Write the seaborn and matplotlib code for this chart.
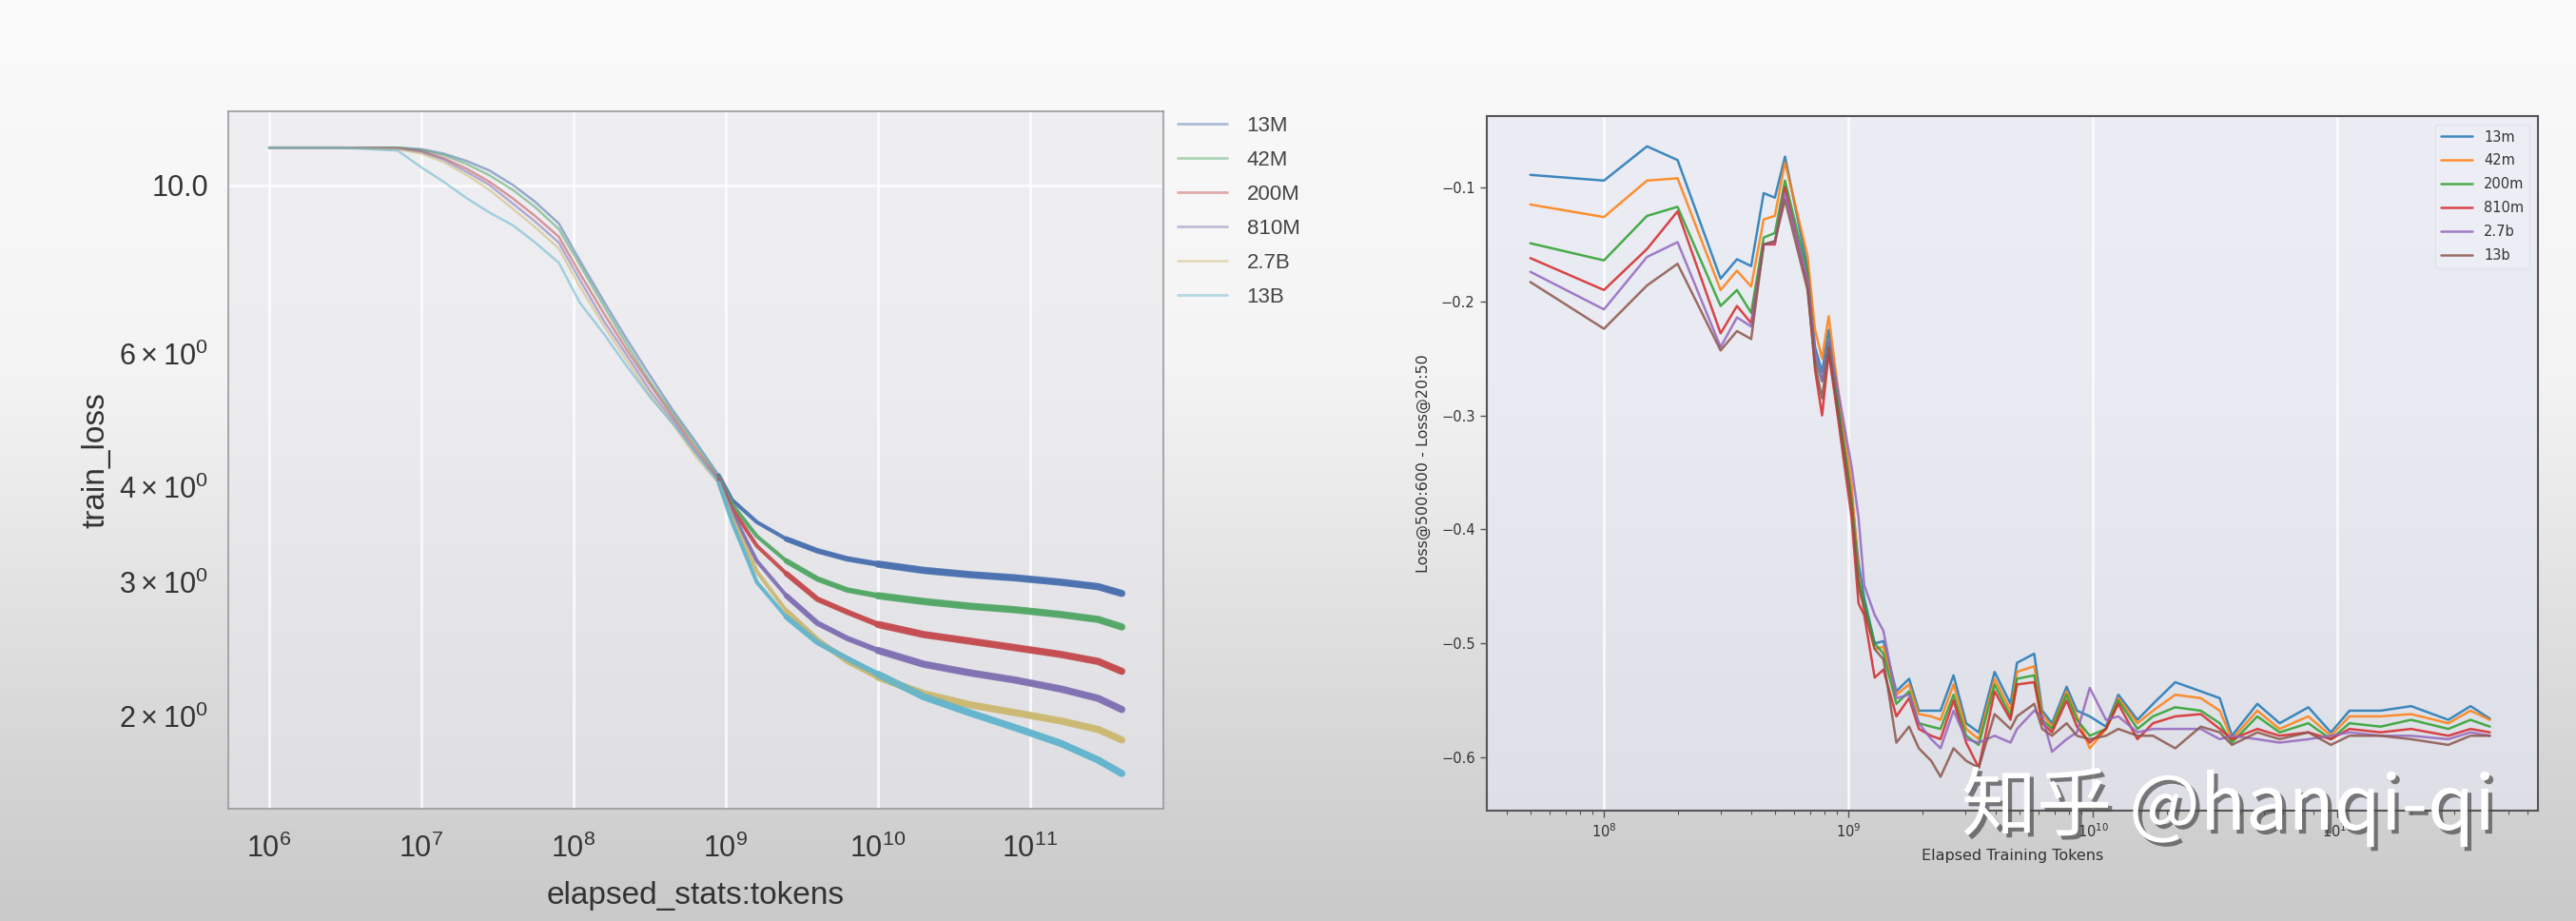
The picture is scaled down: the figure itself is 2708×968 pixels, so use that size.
import numpy as np
import pandas as pd
import matplotlib
matplotlib.use("Agg")
import matplotlib.pyplot as plt
import matplotlib.patheffects as pe
from matplotlib.colors import LinearSegmentedColormap
from matplotlib.lines import Line2D
from matplotlib.ticker import FixedLocator, FixedFormatter, NullLocator, LogLocator
import seaborn as sns


# ==== left panel: train_loss vs elapsed tokens ====
left_models = ["13M", "42M", "200M", "810M", "2.7B", "13B"]
left_tokens = [1e6, 3e6, 7e6, 1e7, 1.4e7, 2e7, 2.8e7, 4e7, 5.6e7, 8e7,
               1.1e8, 1.6e8, 2.2e8, 3.2e8, 4.5e8, 6.3e8, 9e8, 1.1e9, 1.6e9, 2.5e9,
               4e9, 6.3e9, 1e10, 2e10, 4e10, 8e10, 1.6e11, 2.8e11, 4e11]
loss_13M = [11.2, 11.2, 11.2, 11.15, 11.0, 10.75, 10.45, 10.0, 9.5, 8.9,
            7.95, 7.0, 6.3, 5.6, 5.05, 4.6, 4.15, 3.85, 3.6, 3.42,
            3.3, 3.22, 3.17, 3.11, 3.07, 3.04, 3.0, 2.96, 2.9]
loss_42M = [11.2, 11.2, 11.2, 11.12, 10.95, 10.65, 10.3, 9.85, 9.35, 8.75,
            7.85, 6.9, 6.2, 5.5, 5.0, 4.55, 4.12, 3.8, 3.45, 3.2,
            3.03, 2.93, 2.88, 2.83, 2.79, 2.76, 2.72, 2.68, 2.62]
loss_200M = [11.2, 11.2, 11.18, 11.08, 10.85, 10.5, 10.1, 9.6, 9.1, 8.55,
             7.65, 6.75, 6.1, 5.45, 4.95, 4.5, 4.1, 3.75, 3.35, 3.08,
             2.85, 2.74, 2.64, 2.56, 2.51, 2.46, 2.41, 2.36, 2.29]
loss_810M = [11.2, 11.2, 11.17, 11.05, 10.8, 10.4, 10.0, 9.45, 8.95, 8.4,
             7.5, 6.6, 6.0, 5.35, 4.9, 4.45, 4.08, 3.7, 3.2, 2.88,
             2.65, 2.53, 2.44, 2.34, 2.28, 2.23, 2.17, 2.11, 2.04]
loss_2_7B = [11.2, 11.2, 11.15, 11.0, 10.72, 10.3, 9.85, 9.3, 8.8, 8.25,
             7.35, 6.5, 5.9, 5.28, 4.85, 4.4, 4.05, 3.65, 3.1, 2.75,
             2.52, 2.36, 2.25, 2.14, 2.07, 2.02, 1.97, 1.92, 1.86]
loss_13B = [11.2, 11.2, 11.1, 10.55, 10.1, 9.6, 9.2, 8.85, 8.4, 7.9,
            7.0, 6.35, 5.8, 5.25, 4.85, 4.45, 4.05, 3.6, 3.0, 2.7,
            2.5, 2.38, 2.27, 2.12, 2.02, 1.93, 1.84, 1.75, 1.68]
left_xticks = [1e6, 1e7, 1e8, 1e9, 1e10, 1e11]
left_ymajor = [10]
left_ymajor_labels = ["10.0"]
left_yminor = [2, 3, 4, 6]
left_yminor_labels = [r"$\mathdefault{2\times10^{0}}$", r"$\mathdefault{3\times10^{0}}$",
                      r"$\mathdefault{4\times10^{0}}$", r"$\mathdefault{6\times10^{0}}$"]

# ==== right panel: Loss@500:600 - Loss@20:50 ====
right_models = ["13m", "42m", "200m", "810m", "2.7b", "13b"]
right_tokens = [5e7, 1e8, 1.5e8, 2e8, 3e8, 3.5e8, 4e8, 4.5e8, 5e8, 5.5e8,
                6.8e8, 7.3e8, 7.8e8, 8.3e8, 9.1e8, 1.03e9, 1.1e9, 1.16e9, 1.28e9,
                1.39e9, 1.57e9, 1.77e9, 1.94e9, 2.18e9, 2.38e9, 2.69e9, 3.03e9, 3.41e9, 3.96e9,
                4.6e9, 4.89e9, 5.75e9, 6.2e9, 6.8e9, 7.8e9, 8.6e9, 9.7e9,
                1.13e10, 1.27e10, 1.52e10, 1.76e10, 2.17e10, 2.76e10,
                3.3e10, 3.7e10, 4.7e10, 5.8e10, 7.6e10, 9.4e10,
                1.12e11, 1.5e11, 2.0e11, 2.84e11, 3.5e11, 4.2e11]
delta_13m = [-0.089, -0.094, -0.064, -0.076, -0.180, -0.163, -0.169, -0.105, -0.109, -0.073,
             -0.170, -0.240, -0.262, -0.225, -0.290, -0.370, -0.430, -0.460, -0.500,
             -0.498, -0.542, -0.531, -0.559, -0.559, -0.559, -0.528, -0.570, -0.578, -0.525,
             -0.553, -0.517, -0.509, -0.559, -0.570, -0.538, -0.559, -0.564,
             -0.573, -0.545, -0.567, -0.553, -0.534, -0.542,
             -0.548, -0.581, -0.553, -0.570, -0.556, -0.578,
             -0.559, -0.559, -0.555, -0.567, -0.555, -0.566]
delta_42m = [-0.115, -0.126, -0.094, -0.092, -0.190, -0.173, -0.187, -0.128, -0.125, -0.078,
             -0.160, -0.225, -0.250, -0.213, -0.280, -0.360, -0.440, -0.470, -0.505,
             -0.503, -0.545, -0.536, -0.562, -0.564, -0.567, -0.536, -0.575, -0.584, -0.531,
             -0.559, -0.525, -0.520, -0.562, -0.573, -0.542, -0.564, -0.592,
             -0.575, -0.548, -0.570, -0.559, -0.545, -0.548,
             -0.559, -0.584, -0.559, -0.575, -0.564, -0.581,
             -0.564, -0.564, -0.562, -0.570, -0.559, -0.567]
delta_200m = [-0.149, -0.164, -0.125, -0.117, -0.204, -0.190, -0.210, -0.144, -0.140, -0.094,
              -0.175, -0.250, -0.270, -0.235, -0.295, -0.375, -0.445, -0.465, -0.500,
              -0.509, -0.553, -0.542, -0.570, -0.573, -0.575, -0.545, -0.581, -0.589, -0.536,
              -0.564, -0.531, -0.528, -0.567, -0.575, -0.545, -0.567, -0.581,
              -0.575, -0.550, -0.575, -0.564, -0.556, -0.559,
              -0.570, -0.587, -0.564, -0.578, -0.570, -0.584,
              -0.570, -0.573, -0.567, -0.575, -0.567, -0.573]
delta_810m = [-0.162, -0.190, -0.154, -0.121, -0.228, -0.204, -0.219, -0.150, -0.150, -0.100,
              -0.185, -0.260, -0.300, -0.245, -0.305, -0.390, -0.465, -0.475, -0.530,
              -0.523, -0.564, -0.548, -0.575, -0.581, -0.584, -0.550, -0.587, -0.609, -0.542,
              -0.567, -0.536, -0.534, -0.570, -0.578, -0.550, -0.573, -0.587,
              -0.575, -0.553, -0.584, -0.570, -0.564, -0.562,
              -0.575, -0.584, -0.575, -0.581, -0.578, -0.584,
              -0.575, -0.578, -0.575, -0.581, -0.575, -0.578]
delta_2_7b = [-0.174, -0.207, -0.161, -0.148, -0.240, -0.214, -0.222, -0.150, -0.148, -0.105,
              -0.180, -0.245, -0.270, -0.235, -0.280, -0.345, -0.390, -0.449, -0.475,
              -0.489, -0.548, -0.545, -0.570, -0.584, -0.592, -0.559, -0.584, -0.587, -0.581,
              -0.587, -0.575, -0.559, -0.564, -0.595, -0.584, -0.578, -0.539,
              -0.567, -0.564, -0.578, -0.575, -0.575, -0.575,
              -0.584, -0.581, -0.584, -0.587, -0.584, -0.581,
              -0.578, -0.581, -0.581, -0.584, -0.578, -0.581]
delta_13b = [-0.183, -0.224, -0.186, -0.167, -0.243, -0.226, -0.233, -0.150, -0.147, -0.111,
             -0.190, -0.255, -0.285, -0.240, -0.300, -0.380, -0.450, -0.470, -0.505,
             -0.514, -0.587, -0.573, -0.592, -0.603, -0.617, -0.592, -0.603, -0.609, -0.562,
             -0.575, -0.564, -0.553, -0.575, -0.581, -0.570, -0.581, -0.584,
             -0.581, -0.575, -0.581, -0.581, -0.592, -0.573,
             -0.578, -0.589, -0.578, -0.584, -0.578, -0.589,
             -0.581, -0.581, -0.584, -0.589, -0.581, -0.581]
right_yticks = [-0.1, -0.2, -0.3, -0.4, -0.5, -0.6]


def long_form(tokens, series, names, value):
    frames = [pd.DataFrame({"tokens": tokens, value: s, "model": n})
              for s, n in zip(series, names)]
    return pd.concat(frames, ignore_index=True)


left_df = long_form(left_tokens,
                    [loss_13M, loss_42M, loss_200M, loss_810M, loss_2_7B, loss_13B],
                    left_models, "train_loss")
right_df = long_form(right_tokens,
                     [delta_13m, delta_42m, delta_200m, delta_810m, delta_2_7b, delta_13b],
                     right_models, "delta")

sns.set_style("darkgrid")
plt.rcParams["font.family"] = ["DejaVu Sans"]

left_colors = sns.color_palette("deep6")
right_colors = sns.color_palette("tab10")[:6]

fig = plt.figure(figsize=(27.08, 9.68), dpi=100)

# screenshot-like background (light at top, grey towards the bottom)
bg = fig.add_axes([0, 0, 1, 1], zorder=-10)
bg_cmap = LinearSegmentedColormap.from_list(
    "bg", [(0, "#fafafa"), (0.4, "#f4f4f4"), (0.62, "#e4e4e4"), (1, "#c9c9c9")])
bg.imshow(np.linspace(0, 1, 256).reshape(-1, 1), aspect="auto", cmap=bg_cmap,
          extent=[0, 1, 0, 1])
bg.axis("off")

# ==== left ====
ax1 = fig.add_axes([0.0886, 0.1219, 0.3630, 0.7571])
ax1.set_facecolor((0.91, 0.91, 0.935, 0.6))
ax1.set_xscale("log")
ax1.set_yscale("log")
sns.lineplot(data=left_df, x="tokens", y="train_loss", hue="model", hue_order=left_models,
             palette=left_colors, estimator=None, lw=1.8, alpha=0.55, legend=False, ax=ax1)
# the noisy runs read as thicker bands later in training
for start, width in [(9e8, 3.0), (2.5e9, 4.2), (1e10, 5.5)]:
    part = left_df[left_df["tokens"] >= start]
    sns.lineplot(data=part, x="tokens", y="train_loss", hue="model", hue_order=left_models,
                 palette=left_colors, estimator=None, lw=width, alpha=0.9, legend=False,
                 solid_capstyle="round", ax=ax1)
ax1.set_xlim(5.38e5, 7.5e11)
ax1.set_ylim(1.51, 12.5)
ax1.xaxis.set_major_locator(FixedLocator(left_xticks))
ax1.xaxis.set_minor_locator(NullLocator())
ax1.yaxis.set_major_locator(FixedLocator(left_ymajor))
ax1.yaxis.set_major_formatter(FixedFormatter(left_ymajor_labels))
ax1.yaxis.set_minor_locator(FixedLocator(left_yminor))
ax1.yaxis.set_minor_formatter(FixedFormatter(left_yminor_labels))
ax1.tick_params(which="both", length=0, labelsize=22, pad=15, labelcolor="#333333",
                labelfontfamily="Liberation Sans")
ax1.tick_params(axis="x", pad=19)
ax1.grid(which="major", color="white", lw=2.2, alpha=0.75)
ax1.grid(which="minor", visible=False)
for s in ax1.spines.values():
    s.set_visible(True)
    s.set_color("#9a9a9a")
    s.set_linewidth(1.2)
ax1.set_xlabel("elapsed_stats:tokens", fontsize=24, family="Liberation Sans",
               color="#333333", labelpad=13)
ax1.set_ylabel("train_loss", fontsize=24, family="Liberation Sans",
               color="#333333", labelpad=6)
handles = [Line2D([], [], color=c, lw=2, alpha=0.45) for c in left_colors]
leg1 = ax1.legend(handles, left_models, loc="upper left", bbox_to_anchor=(1.0, 1.015),
                  frameon=False, prop={"family": "Liberation Sans", "size": 16},
                  labelspacing=0.68, handlelength=2.3, handletextpad=0.95, borderaxespad=0.3)
for t in leg1.get_texts():
    t.set_color("#444444")

# ==== right ====
ax2 = fig.add_axes([0.5772, 0.1198, 0.4080, 0.7542])
ax2.set_facecolor((0.894, 0.902, 0.949, 0.65))
ax2.set_xscale("log")
sns.lineplot(data=right_df, x="tokens", y="delta", hue="model", hue_order=right_models,
             palette=right_colors, estimator=None, lw=1.8, alpha=0.85, legend=False, ax=ax2)
ax2.set_xlim(3.32e7, 6.6e11)
ax2.set_ylim(-0.6467, -0.0374)
ax2.set_yticks(right_yticks)
ax2.xaxis.set_major_locator(LogLocator(base=10))
ax2.xaxis.set_minor_locator(LogLocator(base=10, subs=np.arange(2, 10)))
ax2.tick_params(which="major", length=5, width=1, color="#555555", labelsize=10.5,
                labelcolor="#333333", left=True, bottom=True, pad=4)
ax2.tick_params(axis="x", which="minor", length=3, width=0.8, color="#555555", bottom=True)
ax2.grid(axis="y", visible=False)
ax2.grid(axis="x", which="major", color="white", lw=2, alpha=0.8)
for s in ax2.spines.values():
    s.set_visible(True)
    s.set_color("#555555")
    s.set_linewidth(1.5)
ax2.set_xlabel("Elapsed Training Tokens", fontsize=11.5, color="#333333", labelpad=6)
ax2.set_ylabel("Loss@500:600 - Loss@20:50", fontsize=11.5, color="#333333", labelpad=8)
handles2 = [Line2D([], [], color=c, lw=1.8, alpha=0.85) for c in right_colors]
leg2 = ax2.legend(handles2, right_models, loc="upper right", fontsize=10.5, frameon=True,
                  facecolor="#eef0f6", edgecolor="#dfe1e8", framealpha=0.8,
                  labelspacing=0.68, handlelength=2.3, borderaxespad=0.6)
for t in leg2.get_texts():
    t.set_color("#333333")

# watermark
fig.text(0.7614, 0.0992, "知乎 @hanqi-qi", fontsize=57, color="white",
         family=["Noto Sans CJK SC", "DejaVu Sans"], ha="left", va="baseline", zorder=20,
         path_effects=[pe.withSimplePatchShadow(offset=(3, -3), shadow_rgbFace="#4a4a4a",
                                                alpha=0.7)])

fig.savefig("out.png", dpi=100)
